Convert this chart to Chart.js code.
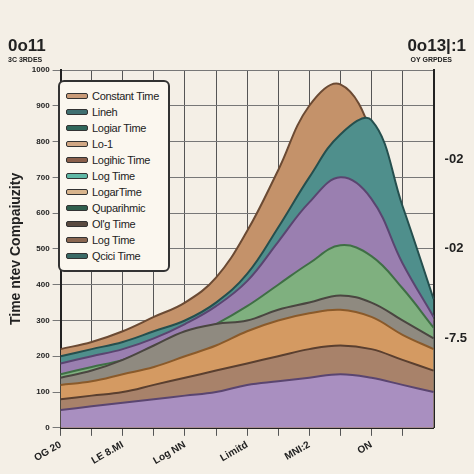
<!DOCTYPE html>
<html><head><meta charset="utf-8">
<script src="https://cdn.jsdelivr.net/npm/chart.js@4"></script>
<style>
html,body{margin:0;background:#f4efe6;font-family:"Liberation Sans",sans-serif}
#wrap{position:relative;width:474px;height:474px}
#legend{position:absolute;left:58px;top:80px;width:96px;background:#fbf7ef;border:2px solid #333;border-radius:6px;padding:6px 6px;font-size:11px;letter-spacing:-0.3px;color:#222}
#legend div{display:flex;align-items:center;height:16px;white-space:nowrap}
#legend span{display:inline-block;flex:none;width:20px;height:4px;border-radius:2px;margin-right:4px;border:1px solid #333}
.t{position:absolute;font-weight:bold;color:#222}
</style></head><body>
<div id="wrap">
<canvas id="c" width="474" height="474"></canvas>
<div class="t" style="left:8px;top:36px;font-size:17px">0o11</div>
<div class="t" style="left:8px;top:56px;font-size:7px">3C 3RDES</div>
<div class="t" style="right:8px;top:36px;font-size:17px">0o13|:1</div>
<div class="t" style="right:22px;top:56px;font-size:7px">OY GRPDES</div>
<div id="legend"></div>
</div>
<script>
// categorias del eje x
const etiquetas = ['0', '1', '2', '3', '4', '5', '6', '7', '8', '9', '10', '11', '12'];
const ticksX = ['OG 20', 'LE 8.MI', 'Log NN', 'Limitd', 'MNI:2', 'ON'];
const ticksDer = ['-02', '-02', '-7.5'];
const leyenda = ['Constant Time', 'Lineh', 'Logiar Time', 'Lo-1', 'Logihic Time', 'Log Time', 'LogarTime', 'Quparihmic', "Ol'g Time", 'Log Time', 'Qcici Time'];
const coloresLeyenda = ['#c99b78', '#3f6f70', '#2f6659', '#d1a784', '#8a5e4a', '#5fb8a6', '#d8b48c', '#2f5e4c', '#5a4a40', '#8a6650', '#3a6a66'];

const marron = [22, 24, 27, 31, 35, 42, 55, 72, 90, 96, 82, 42, 30];
const verdeAzul = [20, 22, 24, 27, 30, 35, 43, 56, 70, 82, 86, 62, 36];
const morado = [18, 20, 22, 25, 29, 34, 41, 52, 63, 70, 64, 46, 31];
const verde = [15, 17, 19, 22, 25, 29, 34, 40, 46, 51, 48, 39, 28];
const gris = [14, 16, 19, 23, 27, 29, 30, 33, 35, 37, 35, 30, 25];
const naranja = [12, 13, 15, 17, 20, 23, 27, 30, 32, 33, 31, 26, 22];
const marron2 = [8, 9, 10, 12, 14, 16, 18, 20, 22, 23, 22, 19, 16];
const morado2 = [5, 6, 7, 8, 9, 10, 12, 13, 14, 15, 14, 12, 10];

const series = [
    [marron, '#c4926a', '#6b4a33'],
    [verdeAzul, '#4f8f8c', '#254f4e'],
    [morado, '#9a7fb0', '#5a4570'],
    [verde, '#7fb07f', '#3f6f45'],
    [gris, '#8f8a80', '#4a4640'],
    [naranja, '#d49a62', '#8a5a2a'],
    [marron2, '#a8826a', '#5a3f2f'],
    [morado2, '#a98fc0', '#5a4570']
];

const leg = document.getElementById('legend');
leyenda.forEach((txt, i) => {
    leg.innerHTML += '<div><span style="background:' + coloresLeyenda[i] + '"></span>' + txt + '</div>';
});

new Chart(document.getElementById('c').getContext('2d'), {
    type: 'line',
    data: {
        labels: etiquetas,
        datasets: series.map((s, i) => ({
            data: s[0],
            backgroundColor: s[1],
            borderColor: s[2],
            borderWidth: 2,
            fill: 'origin',
            tension: 0.4,
            pointRadius: 0,
            order: series.length - i
        }))
    },
    options: {
        responsive: false,
        animation: false,
        layout: { padding: { top: 70, right: 4, left: 4, bottom: 4 } },
        plugins: { legend: { display: false }, tooltip: { enabled: false } },
        scales: {
            x: {
                grid: { color: '#555', lineWidth: 1 },
                border: { color: '#222', width: 2 },
                ticks: {
                    color: '#222', font: { size: 10, weight: 'bold' }, maxRotation: 30, minRotation: 30,
                    callback: (v, i) => (i % 2 === 0 ? ticksX[i / 2] : '')
                }
            },
            y: {
                min: 0, max: 100,
                grid: { color: '#777', lineWidth: 1 },
                border: { color: '#222', width: 2 },
                title: { display: true, text: 'Time ntev Compaiuzity', color: '#222', font: { size: 14, weight: 'bold' } },
                ticks: { color: '#222', font: { size: 8, weight: 'bold' }, stepSize: 10, callback: v => v * 10 }
            },
            y2: {
                position: 'right', min: 0, max: 100,
                grid: { display: false },
                border: { color: '#222', width: 2 },
                ticks: {
                    color: '#222', font: { size: 13, weight: 'bold' }, stepSize: 25,
                    callback: (v) => ({ 75: ticksDer[0], 50: ticksDer[1], 25: ticksDer[2] }[v] || '')
                }
            }
        }
    }
});
</script>
</body></html>
